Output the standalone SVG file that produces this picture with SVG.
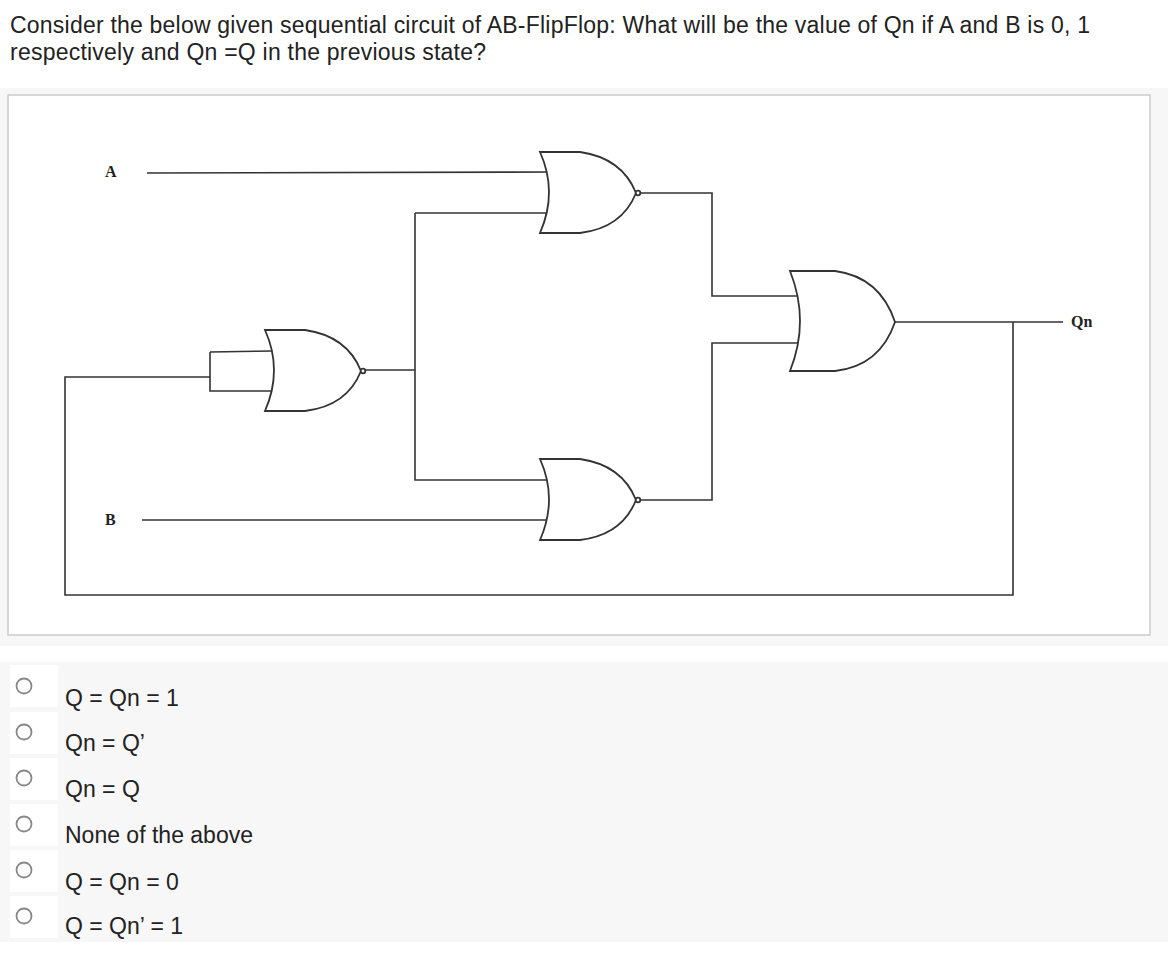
<svg xmlns="http://www.w3.org/2000/svg" width="1172" height="954" viewBox="0 0 1172 954">
<style>
.w{fill:none;stroke:#333;stroke-width:1.6}
.g{fill:#fff;stroke:#333;stroke-width:1.8}
.t{font-family:"Liberation Sans",Arial,sans-serif;font-size:23px;fill:#222}
.l{font-family:"Liberation Serif",serif;font-size:16px;font-weight:bold;fill:#222}
.r{fill:#fff;stroke:#888;stroke-width:1.8}
</style>
<defs>
<path id="or" d="M0,0 L40,0 Q82,6 96,41 Q82,76 40,81 L0,81 Q18,40 0,0 Z"/>
</defs>
<rect width="1172" height="954" fill="#fff"/>
<text class="t" x="10" y="33" textLength="1080">Consider the below given sequential circuit of AB-FlipFlop: What will be the value of Qn if A and B is 0, 1</text>
<text class="t" x="10" y="60" textLength="476">respectively and Qn =Q in the previous state?</text>
<rect x="0" y="88" width="1168" height="558" fill="#f7f7f7"/>
<rect x="8" y="95" width="1142" height="540" fill="#fff" stroke="#ccc" stroke-width="1.5"/>
<text class="l" x="105" y="177">A</text>
<text class="l" x="105" y="525">B</text>
<text class="l" x="1071" y="327">Qn</text>
<g id="connectors">
<path class="w" d="M147,173 L552,172"/>
<path class="w" d="M415,213 L552,213 M415,213 L415,480 L552,480"/>
<path class="w" d="M142,520 L552,520"/>
<path class="w" d="M364,370 L415,370"/>
<path class="w" d="M639,193 L712,193 L712,296 L800,296"/>
<path class="w" d="M639,500 L712,500 L712,343 L800,343"/>
<path class="w" d="M895,322 L1063,322 M1013,322 L1013,595 L65,595 L65,377 L210,377 M210,352 L273,351 M210,352 L210,391 L273,391"/>
</g>
<g id="gate1"><use href="#or" class="g" x="540" y="152"/><circle cx="638" cy="193" r="2.3" class="g" stroke-width="1.2"/></g>
<g id="gate2"><use href="#or" class="g" x="265" y="330"/><circle cx="363" cy="371" r="2.3" class="g" stroke-width="1.2"/></g>
<g id="gate3"><use href="#or" class="g" x="540" y="459"/><circle cx="638" cy="500" r="2.3" class="g" stroke-width="1.2"/></g>
<g id="gate4"><path class="g" d="M790,271 L835,271 Q880,277 895,322 Q880,366 835,371 L790,371 Q810,321 790,271 Z"/></g>
<rect x="0" y="662" width="1168" height="280" fill="#f7f7f7"/>
<g id="options">
<rect x="10" y="665" width="48" height="42" fill="#fff"/><circle class="r" cx="24" cy="686" r="7.5"/><text class="t" x="65" y="706">Q = Qn = 1</text>
<rect x="10" y="712" width="48" height="42" fill="#fff"/><circle class="r" cx="24" cy="732" r="7.5"/><text class="t" x="65" y="751">Qn = Q’</text>
<rect x="10" y="758" width="48" height="42" fill="#fff"/><circle class="r" cx="24" cy="778" r="7.5"/><text class="t" x="65" y="797">Qn = Q</text>
<rect x="10" y="804" width="48" height="42" fill="#fff"/><circle class="r" cx="24" cy="824" r="7.5"/><text class="t" x="65" y="843">None of the above</text>
<rect x="10" y="850" width="48" height="42" fill="#fff"/><circle class="r" cx="24" cy="870" r="7.5"/><text class="t" x="65" y="890">Q = Qn = 0</text>
<rect x="10" y="896" width="48" height="42" fill="#fff"/><circle class="r" cx="24" cy="916" r="7.5"/><text class="t" x="65" y="934">Q = Qn’ = 1</text>
</g>
</svg>
